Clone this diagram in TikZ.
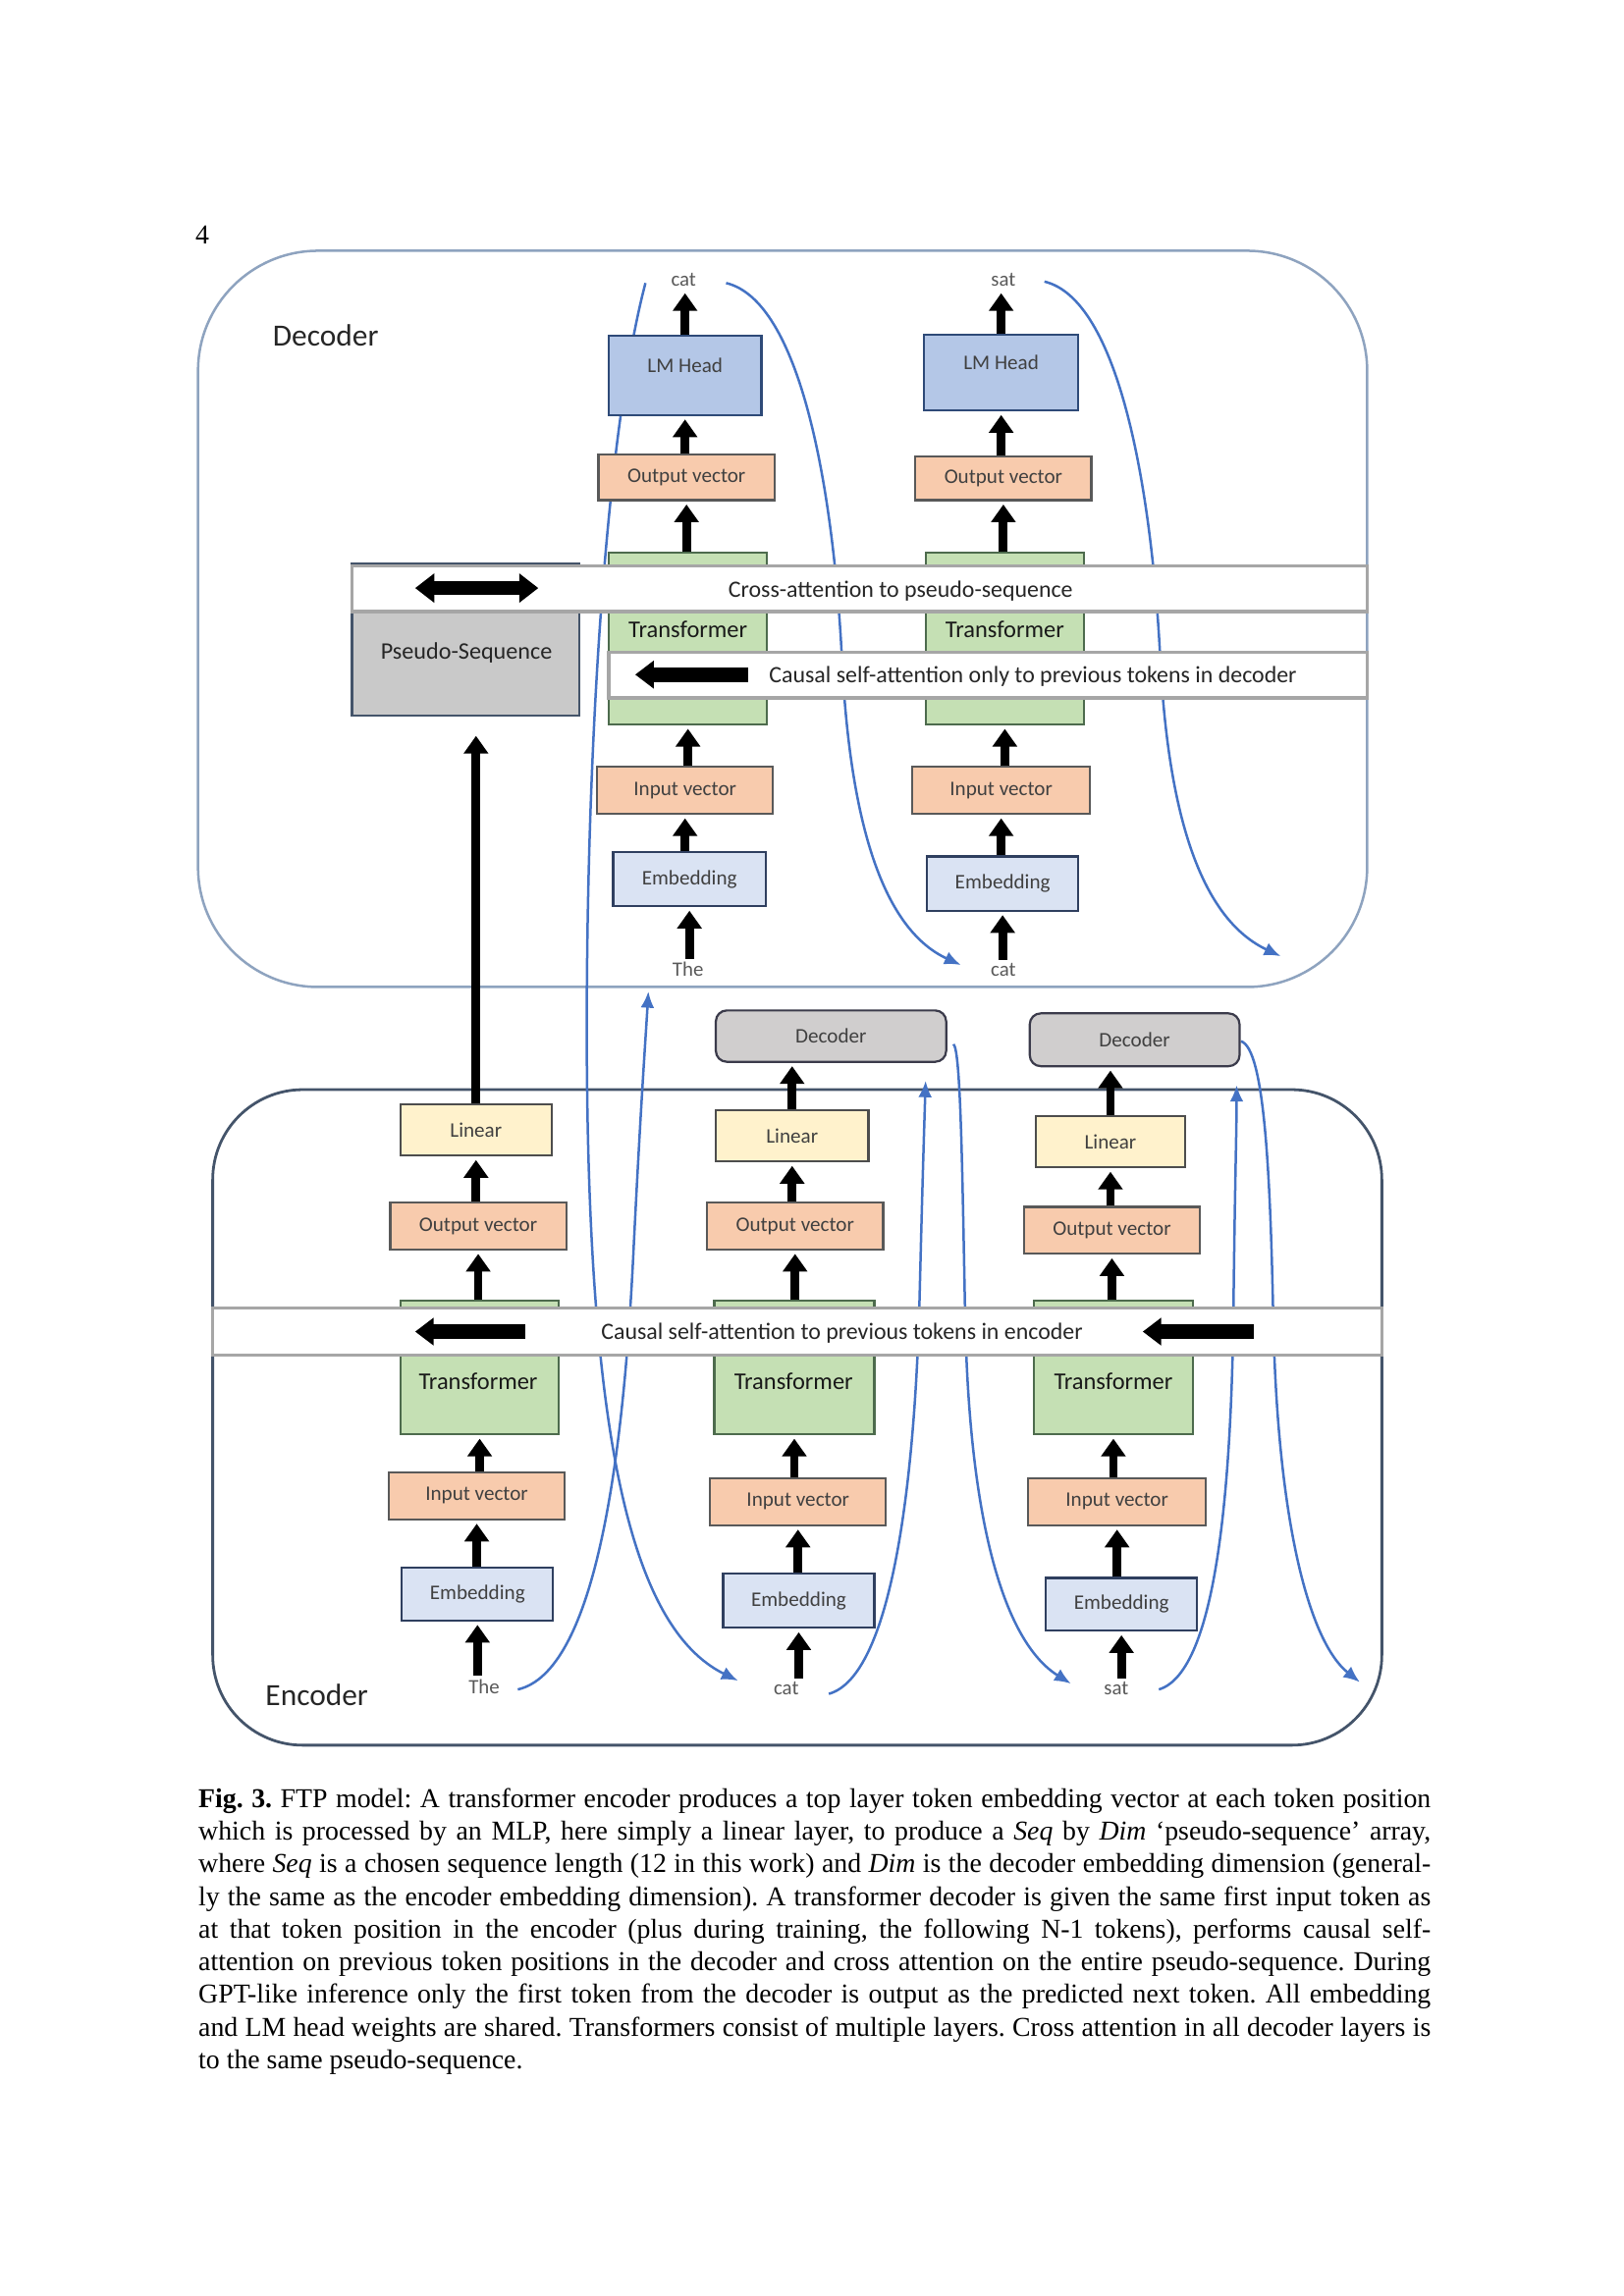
\documentclass[tikz,border=0pt]{standalone}
\usepackage{fontspec}
\setmainfont{Liberation Serif}
\newfontfamily\carl{Carlito}
\usetikzlibrary{arrows.meta}
\definecolor{lmfill}{HTML}{B4C7E7}
\definecolor{lmdraw}{HTML}{2E4A78}
\definecolor{vecfill}{HTML}{F8CBAD}
\definecolor{vecdraw}{HTML}{595959}
\definecolor{trfill}{HTML}{C5E0B4}
\definecolor{trdraw}{HTML}{4D6B4D}
\definecolor{embfill}{HTML}{DAE3F3}
\definecolor{embdraw}{HTML}{2F3F5F}
\definecolor{linfill}{HTML}{FFF2CC}
\definecolor{lindraw}{HTML}{4D4D4D}
\definecolor{decfill}{HTML}{D0CECE}
\definecolor{decdraw}{HTML}{3B3B4B}
\definecolor{psfill}{HTML}{C9C9C9}
\definecolor{psdraw}{HTML}{44546A}
\definecolor{bandgray}{HTML}{A6A6A6}
\definecolor{decout}{HTML}{8EA3BF}
\definecolor{encout}{HTML}{44546A}
\definecolor{curveblue}{HTML}{4472C4}
\definecolor{boxtxt}{HTML}{404040}
\definecolor{tokgray}{HTML}{595959}
\tikzset{
  sz/.style 2 args={minimum width={#1*0.53774pt}, minimum height={#2*0.53774pt}},
  box/.style={draw, line width=0.8pt, inner sep=0pt, text=boxtxt, font=\carl\fontsize{7.6}{9}\selectfont},
  lmh/.style={box, fill=lmfill, draw=lmdraw},
  vec/.style={box, fill=vecfill, draw=vecdraw},
  trf/.style={box, fill=trfill, draw=trdraw},
  emb/.style={box, fill=embfill, draw=embdraw},
  lin/.style={box, fill=linfill, draw=lindraw},
  decb/.style={box, fill=decfill, draw=decdraw, rounded corners=4pt},
  pss/.style={box, fill=psfill, draw=psdraw},
  boxlabel/.style={inner sep=0pt, text=boxtxt, font=\carl\fontsize{7.6}{9}\selectfont},
  trlabel/.style={inner sep=0pt, text=black!90, font=\carl\fontsize{8.8}{10}\selectfont},
  pslabel/.style={inner sep=0pt, text=black!85, font=\carl\fontsize{8.7}{10}\selectfont},
  band/.style={draw=bandgray, fill=white, line width=1.2pt, inner sep=0pt},
  bandtxt/.style={inner sep=0pt, text=black!85, font=\carl\fontsize{8.6}{10}\selectfont},
  tok/.style={inner sep=1pt, text=tokgray, font=\carl\fontsize{7.5}{9}\selectfont},
  biglabel/.style={inner sep=0pt, text=black!85, font=\carl\fontsize{11.3}{13}\selectfont},
  blk/.style={line width=3.2pt, black, -{Triangle[length=6.5pt,width=8.7pt]}, shorten >=1.2pt},
  bandarrow/.style={line width=5.3pt, black, -{Triangle[length=6.8pt,width=9.8pt]}},
  dblarrow/.style={line width=5.1pt, black, {Triangle[length=7pt,width=10.3pt]}-{Triangle[length=7pt,width=10.3pt]}},
  tokcurve/.style={draw=curveblue, line width=0.9pt, -{Latex[length=6pt,width=5pt]}},
  outerdec/.style={draw=decout, line width=0.9pt, rounded corners=44pt},
  outerenc/.style={draw=encout, line width=1pt, rounded corners=33pt},
}
\begin{document}
\begin{tikzpicture}[x=0.53774pt,y=-0.53774pt]
\useasboundingbox (0,0) rectangle (1107,1565.6);
\fill[white] (0,0) rectangle (1107,1565.6);

% page number
\node[inner sep=0pt, font=\fontsize{10}{12}\selectfont] (pagenum) at (138,160) {4};

% outer boxes
\draw[outerdec] (135,171) rectangle (932,673);
\draw[outerenc] (145,743) rectangle (942,1190);

% blue token curves
\coordinate (c1a) at (440,193);  \coordinate (c1b) at (503,1146);
\coordinate (c2a) at (353,1152); \coordinate (c2b) at (442,676);
\coordinate (c3a) at (495,193);  \coordinate (c3b) at (655,658);
\coordinate (c4a) at (712,192);  \coordinate (c4b) at (873,652);
\coordinate (c5a) at (565,1155); \coordinate (c5b) at (631,737);
\coordinate (c6a) at (650,712);  \coordinate (c6b) at (730,1148);
\coordinate (c7a) at (790,1152); \coordinate (c7b) at (843,740);
\coordinate (c8a) at (846,710);  \coordinate (c8b) at (927,1147);
\draw[tokcurve] (c1a) .. controls (412,300) and (400,520) .. (400,700) .. controls (400,980) and (430,1110) .. (c1b);
\draw[tokcurve] (c2a) .. controls (405,1140) and (425,1000) .. (432,850) .. controls (437,750) and (440,710) .. (c2b);
\draw[tokcurve] (c3a) .. controls (545,205) and (568,330) .. (574,450) .. controls (580,570) and (605,635) .. (c3b);
\draw[tokcurve] (c4a) .. controls (762,204) and (785,330) .. (791,450) .. controls (797,565) and (822,628) .. (c4b);
\draw[tokcurve] (c5a) .. controls (608,1143) and (624,1010) .. (627,880) .. controls (629,800) and (630,770) .. (c5b);
\draw[tokcurve] (c6a) .. controls (655,716) and (656,800) .. (658,900) .. controls (661,1040) and (685,1120) .. (c6b);
\draw[tokcurve] (c7a) .. controls (830,1140) and (840,1010) .. (841,880) .. controls (842,800) and (843,770) .. (c7b);
\draw[tokcurve] (c8a) .. controls (862,715) and (866,800) .. (868,900) .. controls (871,1040) and (893,1120) .. (c8b);

% ---------------- decoder ----------------
\node[biglabel] (declabel) at (222,229) {Decoder};
% column 1
\node[lmh, sz={104}{54}] (lmh1) at (467,256) {};
\node[boxlabel] (lmh1t) at (467,249) {LM Head};
\node[vec, sz={120}{31}] (dov1) at (468,325.5) {Output vector};
\node[trf, sz={108}{117}] (dtr1) at (469,435.5) {};
\node[vec, sz={120}{32}] (div1) at (467,539) {Input vector};
\node[emb, sz={104}{37}] (dem1) at (470,599.5) {Embedding};
\node[tok] (dtin1) at (469,661) {The};
\node[tok] (dtout1) at (466,191) {cat};
% column 2
\node[lmh, sz={105}{52}] (lmh2) at (682.5,254) {};
\node[boxlabel] (lmh2t) at (682.5,247) {LM Head};
\node[vec, sz={120}{30}] (dov2) at (684,326) {Output vector};
\node[trf, sz={108}{117}] (dtr2) at (685,435.5) {};
\node[vec, sz={121}{32}] (div2) at (682.5,539) {Input vector};
\node[emb, sz={103}{37}] (dem2) at (683.5,602.5) {Embedding};
\node[tok] (dtin2) at (684,661) {cat};
\node[tok] (dtout2) at (684,191) {sat};
% pseudo-sequence
\node[pss, sz={155}{104}] (ps) at (317.5,436) {};

% decoder arrows
\draw[blk] (dem1.north |- dtin1.north) -- (dem1.south);
\draw[blk] (div1.south |- dem1.north) -- (div1.south);
\draw[blk] (dtr1.south |- div1.north) -- (dtr1.south);
\draw[blk] (dov1.north |- dtr1.north) -- (dov1.south);
\draw[blk] (lmh1.north |- dov1.north) -- (lmh1.south);
\draw[blk] (lmh1.north) -- (lmh1.north |- dtout1.south);
\draw[blk] (dem2.north |- dtin2.north) -- (dem2.south);
\draw[blk] (div2.south |- dem2.north) -- (div2.south);
\draw[blk] (dtr2.south |- div2.north) -- (dtr2.south);
\draw[blk] (dov2.north |- dtr2.north) -- (dov2.south);
\draw[blk] (lmh2.north |- dov2.north) -- (lmh2.south);
\draw[blk] (lmh2.north) -- (lmh2.north |- dtout2.south);

% decoder bands
\node[band, sz={692}{31}] (xband) at (586,401.5) {};
\node[band, sz={517}{31}] (dcband) at (673.5,460.5) {};
\node[bandtxt] (xtxt) at (614,403) {Cross-attention to pseudo-sequence};
\node[bandtxt, anchor=west] (dctxt) at (524,461) {Causal self-attention only to previous tokens in decoder};
\coordinate (xa1) at (283,401); \coordinate (xa2) at (367,401);
\draw[dblarrow] (xa1) -- (xa2);
\coordinate (da1) at (510,460); \coordinate (da2) at (433,460);
\draw[bandarrow] (da1) -- (da2);
\node[trlabel] (dtr1t) at (469,429) {Transformer};
\node[trlabel] (dtr2t) at (685,429) {Transformer};
\node[pslabel] (pst) at (318,445) {Pseudo-Sequence};

% ---------------- encoder ----------------
\node[biglabel] (enclabel) at (216,1156) {Encoder};
% column 1
\node[lin, sz={103}{35}] (lin1) at (324.5,770.5) {Linear};
\node[vec, sz={120}{32}] (eov1) at (326,836) {Output vector};
\node[trf, sz={108}{91}] (etr1) at (327,932.5) {};
\node[vec, sz={120}{32}] (eiv1) at (325,1020) {Input vector};
\node[emb, sz={103}{36}] (eem1) at (325.5,1087) {Embedding};
\node[tok] (etin1) at (330,1150) {The};
% column 2
\node[decb, sz={157}{35}] (dec2) at (566.5,706.5) {Decoder};
\node[lin, sz={104}{35}] (lin2) at (540,774.5) {Linear};
\node[vec, sz={120}{32}] (eov2) at (542,836) {Output vector};
\node[trf, sz={109}{91}] (etr2) at (541.5,932.5) {};
\node[vec, sz={120}{32}] (eiv2) at (544,1024) {Input vector};
\node[emb, sz={103}{37}] (eem2) at (544.5,1091.5) {Embedding};
\node[tok] (etin2) at (536,1151) {cat};
% column 3
\node[decb, sz={143}{36}] (dec3) at (773.5,709) {Decoder};
\node[lin, sz={102}{35}] (lin3) at (757,778.5) {Linear};
\node[vec, sz={120}{32}] (eov3) at (758,839) {Output vector};
\node[trf, sz={108}{91}] (etr3) at (759,932.5) {};
\node[vec, sz={121}{32}] (eiv3) at (761.5,1024) {Input vector};
\node[emb, sz={103}{36}] (eem3) at (764.5,1094) {Embedding};
\node[tok] (etin3) at (761,1151) {sat};

% encoder arrows
\draw[blk] (eem1.north |- etin1.north) -- (eem1.south);
\draw[blk] (eiv1.south |- eem1.north) -- (eiv1.south);
\draw[blk] (etr1.south |- eiv1.north) -- (etr1.south);
\draw[blk] (eov1.north |- etr1.north) -- (eov1.south);
\draw[blk] (lin1.north |- eov1.north) -- (lin1.south);
\draw[blk, shorten >=7pt] (lin1.north) -- (lin1.north |- ps.south);
\draw[blk] (eem2.north |- etin2.north) -- (eem2.south);
\draw[blk] (eiv2.south |- eem2.north) -- (eiv2.south);
\draw[blk] (etr2.south |- eiv2.north) -- (etr2.south);
\draw[blk] (eov2.north |- etr2.north) -- (eov2.south);
\draw[blk] (lin2.north |- eov2.north) -- (lin2.south);
\draw[blk] (lin2.north) -- (lin2.north |- dec2.south);
\draw[blk] (eem3.north |- etin3.north) -- (eem3.south);
\draw[blk] (eiv3.south |- eem3.north) -- (eiv3.south);
\draw[blk] (etr3.south |- eiv3.north) -- (etr3.south);
\draw[blk] (eov3.north |- etr3.north) -- (eov3.south);
\draw[blk] (lin3.north |- eov3.north) -- (lin3.south);
\draw[blk] (lin3.north) -- (lin3.north |- dec3.south);

% encoder band
\node[band, sz={797}{32}] (ecband) at (543.5,908) {};
\node[bandtxt] (ectxt) at (574,909) {Causal self-attention to previous tokens in encoder};
\coordinate (ea1) at (358,908); \coordinate (ea2) at (283,908);
\coordinate (ea3) at (855,908); \coordinate (ea4) at (779,908);
\draw[bandarrow] (ea1) -- (ea2);
\draw[bandarrow] (ea3) -- (ea4);
\node[trlabel] (etr1t) at (326,942) {Transformer};
\node[trlabel] (etr2t) at (541,942) {Transformer};
\node[trlabel] (etr3t) at (759,942) {Transformer};

% caption
\newcommand\capl[1]{\hbox to\hsize{#1}}
\node[anchor=north west, inner sep=0pt, font=\fontsize{10}{11.97}\selectfont] (caption) at (135,1219) {\vbox{\frenchspacing\hsize=451.7pt \baselineskip=11.97pt
\capl{\textbf{Fig. 3.} FTP model: A transformer encoder produces a top layer token embedding vector at each token position}
\capl{which is processed by an MLP, here simply a linear layer, to produce a \textit{Seq} by \textit{Dim} ‘pseudo-sequence’ array,}
\capl{where \textit{Seq} is a chosen sequence length (12 in this work) and \textit{Dim} is the decoder embedding dimension (general-}
\capl{ly the same as the encoder embedding dimension). A transformer decoder is given the same first input token as}
\capl{at that token position in the encoder (plus during training, the following N-1 tokens), performs causal self-}
\capl{attention on previous token positions in the decoder and cross attention on the entire pseudo-sequence. During}
\capl{GPT-like inference only the first token from the decoder is output as the predicted next token. All embedding}
\capl{and LM head weights are shared. Transformers consist of multiple layers. Cross attention in all decoder layers is}
\hbox{to the same pseudo-sequence.}}};
\end{tikzpicture}
\end{document}
